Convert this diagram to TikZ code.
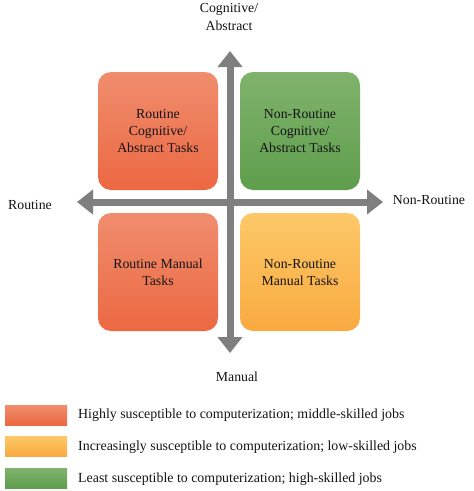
\documentclass[tikz,border=0pt]{standalone}
\usepackage{fontspec}
\setmainfont{Liberation Serif}
\usetikzlibrary{arrows.meta}
\definecolor{redT}{HTML}{F08D6E}
\definecolor{redB}{HTML}{EC6842}
\definecolor{grnT}{HTML}{80B36D}
\definecolor{grnB}{HTML}{5F9E4C}
\definecolor{ylwT}{HTML}{FDC868}
\definecolor{ylwB}{HTML}{F9AA40}
\definecolor{axisgray}{HTML}{7F7F7F}
\definecolor{txt}{HTML}{141414}
\tikzset{
  quad/.style={rounded corners=13pt, minimum width=120pt, minimum height=118pt,
    align=center, text=txt, font=\fontsize{13.8}{17}\selectfont, inner sep=0pt},
  redq/.style={quad, top color=redT, bottom color=redB},
  grnq/.style={quad, top color=grnT, bottom color=grnB},
  ylwq/.style={quad, top color=ylwT, bottom color=ylwB},
  axis/.style={draw=axisgray, line width=7pt, {Triangle[width=24pt,length=16pt]}-{Triangle[width=24pt,length=16pt]}},
  axlabel/.style={text=txt, font=\fontsize{13.8}{18}\selectfont, align=center, inner sep=0pt},
  swatch/.style={minimum width=62pt, minimum height=20pt, inner sep=0pt},
  legtext/.style={anchor=west, text=txt, font=\fontsize{13.9}{15}\selectfont, inner sep=0pt}
}
\begin{document}
\begin{tikzpicture}[x=1pt,y=-1pt]
\useasboundingbox (0,0) rectangle (474,491);
\fill[white] (0,0) rectangle (474,491);
% quadrants
\node[redq] (rc) at (158,131) {Routine\\Cognitive/\\Abstract Tasks};
\node[grnq] (nc) at (300,131) {Non-Routine\\Cognitive/\\Abstract Tasks};
\node[redq] (rm) at (158,272) {Routine Manual\\Tasks};
\node[ylwq] (nm) at (300,272) {Non-Routine\\Manual Tasks};
% axes
\coordinate (top) at (230,51);
\coordinate (bot) at (230,353);
\coordinate (lft) at (77,202);
\coordinate (rgt) at (383,202);
\draw[axis] (lft) -- (rgt);
\draw[axis] (bot) -- (top);
% axis labels
\node[axlabel] (lc) at (229,17) {Cognitive/\\Abstract};
\node[axlabel] (lr) at (30,205) {Routine};
\node[axlabel] (lnr) at (429,200) {Non-Routine};
\node[axlabel] (lm) at (237,377) {Manual};
% legend
\node[swatch, top color=redT, bottom color=redB] (s1) at (36,415) {};
\node[swatch, top color=ylwT, bottom color=ylwB] (s2) at (36,446) {};
\node[swatch, top color=grnT, bottom color=grnB] (s3) at (36,478) {};
\node[legtext] (t1) at (78,415) {Highly susceptible to computerization; middle-skilled jobs};
\node[legtext] (t2) at (78,447) {Increasingly susceptible to computerization; low-skilled jobs};
\node[legtext] (t3) at (78,479) {Least susceptible to computerization; high-skilled jobs};
\end{tikzpicture}
\end{document}
